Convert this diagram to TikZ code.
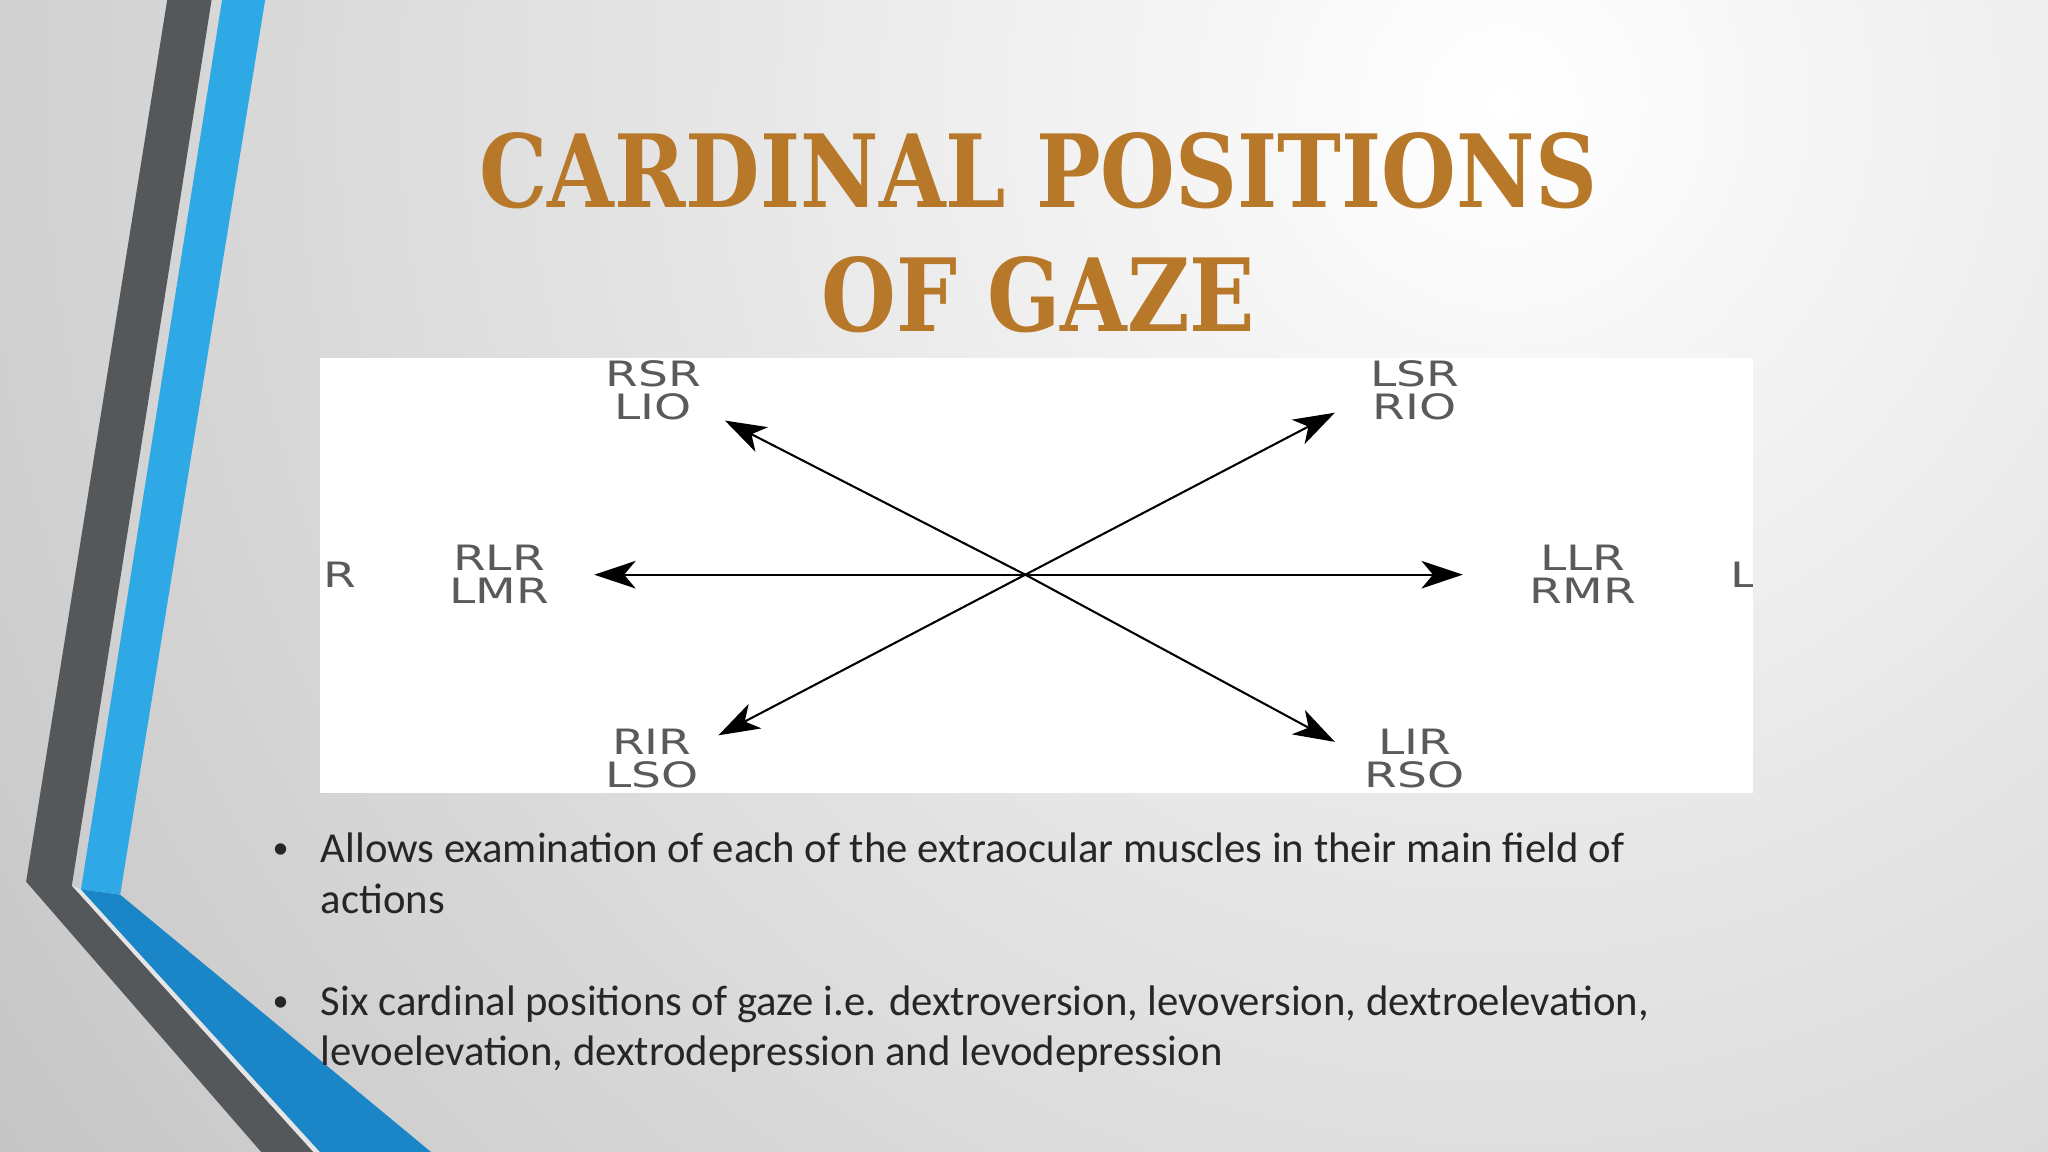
\documentclass[tikz,border=0pt]{standalone}
\usepackage{fontspec}
\setmainfont{Carlito}
\newfontfamily\titlefont{DejaVu Serif}
\newfontfamily\labfont{DejaVu Sans}
\usetikzlibrary{arrows.meta}
\definecolor{titlec}{HTML}{B8782A}
\definecolor{bluec}{HTML}{2FA8E6}
\definecolor{bluedk}{HTML}{1A86C8}
\definecolor{darkc}{HTML}{55585B}
\definecolor{labc}{HTML}{5A5A5A}
\tikzset{
  gaze/.style={line width=0.45pt, -{Stealth[length=9pt,width=6pt,inset=2.5pt]}},
  lab/.style={font=\labfont\fontsize{7.6}{7.2}\selectfont, text=labc, align=center, inner sep=0pt, xscale=1.35},
  body/.style={font=\fontsize{9.3}{11}\selectfont, anchor=west, align=left, inner sep=0pt, text=black!85}
}
\begin{document}
\begin{tikzpicture}[x=0.01cm,y=-0.01cm]
\useasboundingbox (0,0) rectangle (1568,882);
\begin{scope}
\clip (0,0) rectangle (1568,882);
\shade[inner color=white, outer color=black!24] (1150,80) circle (1500);
\end{scope}
% decorative stripes
\fill[darkc] (128,0) -- (162,0) -- (55,678) -- (240,882) -- (200,882) -- (20,675) -- cycle;
\fill[white!90!black] (55,678) -- (62,681) -- (245,882) -- (240,882) -- cycle;
\fill[bluec] (170,0) -- (203,0) -- (92,685) -- (62,681) -- cycle;
\fill[bluedk] (62,681) -- (92,685) -- (330,882) -- (245,882) -- cycle;
% title
\node[font=\titlefont\bfseries\fontsize{22}{27}\selectfont, text=titlec, align=center, xscale=0.85] (title) at (795,178) {CARDINAL POSITIONS\\OF GAZE};
% diagram
\fill[white] (245,274) rectangle (1342,607);
\coordinate (c) at (785,440);
\coordinate (ul) at (555,322);
\coordinate (ur) at (1022,316);
\coordinate (ml) at (455,440);
\coordinate (mr) at (1120,440);
\coordinate (dl) at (550,563);
\coordinate (dr) at (1022,568);
\foreach \t in {ul,ur,ml,mr,dl,dr} \draw[gaze] (c) -- (\t);
\node[lab] (a1) at (500,299) {RSR\\LIO};
\node[lab] (a2) at (1083,299) {LSR\\RIO};
\node[lab] (a3) at (382,440) {RLR\\LMR};
\node[lab] (a4) at (1212,440) {LLR\\RMR};
\node[lab] (a5) at (499,581) {RIR\\LSO};
\node[lab] (a6) at (1083,581) {LIR\\RSO};
\node[lab] (r) at (260,440) {R};
\begin{scope}
\clip (245,274) rectangle (1342,607);
\node[lab, anchor=west] (l) at (1324,440) {L};
\end{scope}
% bullets
\node[body, font=\fontsize{7}{11}\selectfont] (b1) at (208,652) {•};
\node[body, anchor=north west] (t1) at (245,637) {Allows examination of each of the extraocular muscles in their main field of\\actions};
\node[body, font=\fontsize{7}{11}\selectfont] (b2) at (208,769) {•};
\node[body, anchor=north west] (t2) at (245,754) {Six cardinal positions of gaze i.e. dextroversion, levoversion, dextroelevation,\\levoelevation, dextrodepression and levodepression};
\end{tikzpicture}
\end{document}
